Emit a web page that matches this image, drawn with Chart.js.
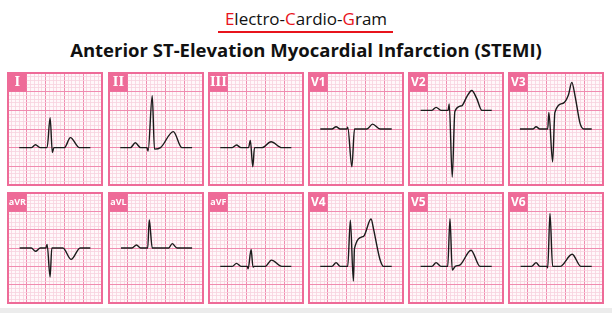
<!DOCTYPE html>
<html>
<head>
<meta charset="utf-8">
<script src="https://cdn.jsdelivr.net/npm/chart.js@4.4.1/dist/chart.umd.min.js"></script>
<style>
  body { margin: 0; width: 612px; height: 313px; background: #fff; position: relative; overflow: hidden; font-family: "Open Sans", "Noto Sans", sans-serif; }
  #title { position: absolute; top: 7px; left: 0; width: 612px; text-align: center; font-size: 17px; color: #111; }
  #title span { color: #e8141c; }
  #rule { position: absolute; top: 31px; left: 218px; width: 175px; height: 2px; background: #e8141c; }
  #subtitle { position: absolute; top: 37px; left: 0; width: 612px; text-align: center; font-size: 18.5px; font-weight: bold; color: #111; }
  .panel { position: absolute; }
  #foot { position: absolute; left: 0; top: 308px; width: 612px; height: 5px; background: #ececec; }
</style>
</head>
<body>
<div id="title"><span>E</span>lectro-<span>C</span>ardio-<span>G</span>ram</div>
<div id="rule"></div>
<div id="subtitle">Anterior ST-Elevation Myocardial Infarction (STEMI)</div>
<div id="foot"></div>
<script>
// traces: [x, y] in small squares (25 across, 30 up from the bottom)
const leadI   = [[3,10],[6.2,10],[7.3,10.8],[8.6,10],[10.4,10],[11.2,18],[11.8,8.7],[12.2,10],[15,10],[16.6,12.7],[19,10],[21.9,10]];
const leadII  = [[3,10],[5.7,10],[7,11.3],[8.4,10],[10.1,10],[10.4,9.1],[11.5,23.9],[12.1,9.6],[13.7,10],[17.1,14.3],[19.4,10],[22.1,10]];
const leadIII = [[3,10],[6.2,10],[7.3,10.7],[8.5,10],[10.5,10],[11,11.9],[11.65,4.9],[12.1,10],[14.1,10],[16.5,11.6],[19.4,10],[21.9,10]];
const leadV1  = [[3,15],[6.1,15],[7.2,15.6],[8.3,15],[10.1,15],[10.3,15.5],[11.4,4.9],[12.1,15],[15.4,15],[16.9,16.3],[18.9,15],[22,15]];
const leadV2  = [[3.1,20],[6.1,20],[7.2,20.8],[8.5,20],[10.4,20],[10.7,21.7],[11.5,2.1],[12.2,19.7],[14,21.2],[15.4,23.7],[16.7,25.3],[18,23.2],[19.4,20],[22,20]];
const leadV3  = [[2.9,15],[6.3,15],[7.2,15.6],[8.2,15],[10.3,15],[10.6,19.4],[11.6,6.2],[12.2,19.4],[14.4,21.9],[15.8,24.1],[16.7,27.5],[17.6,23.7],[18.9,16.5],[19.9,15],[22,15]];
const leadAVR = [[3.1,15],[6.2,15],[7.3,14.1],[8.6,15],[10.1,15],[10.4,16],[11.2,7.1],[11.65,15],[14.6,15],[16.8,11.9],[19.2,15],[21.9,15]];
const leadAVL = [[3.2,15],[6.1,15],[7.3,15.8],[8.4,15],[10.3,15],[10.7,22.7],[11.5,15],[15.9,15],[16.8,16.2],[18.1,15],[22.1,15]];
const leadAVF = [[3,10],[6.2,10],[7.3,10.8],[8.5,10],[10.2,10],[10.4,9.3],[11.2,14.6],[11.7,9.8],[12,10],[15,10],[16.6,11.7],[19.4,10],[21.9,10]];
const leadV4  = [[3,10],[6.1,10],[7.2,11],[8.3,10],[10.3,10],[11,22.6],[11.8,6],[12.1,14.9],[14.5,18.2],[16.5,22.9],[17.2,20],[18.1,15.4],[18.9,11.8],[19.8,10],[22,10]];
const leadV5  = [[3.1,10],[6.1,10],[7.2,11],[8.5,10],[10.3,10],[10.9,23],[11.5,9],[12.3,10],[13.6,10.4],[16.5,14.4],[18.9,10],[22,10]];
const leadV6  = [[3.1,10],[6,10],[7.2,11],[8.2,10],[10.1,10],[10.3,9.6],[10.9,24.4],[11.6,10],[13.6,10],[16.8,13.3],[19.1,10],[22,10]];

const leadNames = ['I', 'II', 'III', 'V1', 'V2', 'V3', 'aVR', 'aVL', 'aVF', 'V4', 'V5', 'V6'];
const leadData = [leadI, leadII, leadIII, leadV1, leadV2, leadV3, leadAVR, leadAVL, leadAVF, leadV4, leadV5, leadV6];

const colLeft = [8, 109, 209, 309, 409, 509];
const rowTop = [73, 193];
const rowHeight = [112, 110];
const panelWidth = 94;

const majorColor = '#f08cb0';
const minorColor = '#f8d2de';
const edgeColor = '#ee6b98';

const panelPlugin = {
  id: 'panel',
  beforeDraw(chart) {
    const a = chart.chartArea, ctx = chart.ctx;
    ctx.save();
    ctx.fillStyle = '#fff8fa';
    ctx.fillRect(a.left, a.top, a.right - a.left, a.bottom - a.top);
    ctx.restore();
  },
  afterDraw(chart, args, opts) {
    const a = chart.chartArea, ctx = chart.ctx;
    const cell = (a.right - a.left) / 5;
    ctx.save();
    ctx.strokeStyle = edgeColor;
    ctx.lineWidth = 2;
    ctx.strokeRect(a.left, a.top, a.right - a.left, a.bottom - a.top);
    ctx.fillStyle = edgeColor;
    ctx.fillRect(a.left, a.top, cell, cell);
    ctx.fillStyle = '#fff';
    const roman = /^I+$/.test(opts.label);
    ctx.font = roman ? 'bold 12px "DejaVu Serif"' : (opts.label.length > 2 ? 'bold 9px "Open Sans"' : 'bold 12px "Open Sans"');
    ctx.textAlign = 'center';
    ctx.textBaseline = 'middle';
    ctx.fillText(opts.label, a.left + cell / 2, a.top + cell / 2 + 0.5);
    ctx.restore();
  }
};

const gridOpts = {
  color: c => (c.tick.value % 5 === 0 ? majorColor : minorColor),
  lineWidth: c => (c.tick.value % 5 === 0 ? 1 : 0.8),
  drawTicks: false
};

leadData.forEach((pts, i) => {
  const row = Math.floor(i / 6), col = i % 6;
  const div = document.createElement('div');
  div.className = 'panel';
  div.style.left = (colLeft[col] - 1) + 'px';
  div.style.top = (rowTop[row] - 1) + 'px';
  const cv = document.createElement('canvas');
  cv.width = panelWidth + 2;
  cv.height = rowHeight[row] + 2;
  cv.style.width = cv.width + 'px';
  cv.style.height = cv.height + 'px';
  div.appendChild(cv);
  document.body.appendChild(div);

  new Chart(cv, {
    type: 'scatter',
    data: {
      datasets: [{
        data: pts.map(p => ({ x: p[0], y: p[1] })),
        showLine: true,
        borderColor: '#1b1b1b',
        borderWidth: 1.4,
        pointRadius: 0,
        cubicInterpolationMode: 'monotone'
      }]
    },
    options: {
      responsive: false,
      animation: false,
      events: [],
      layout: { padding: 1 },
      plugins: {
        legend: { display: false },
        tooltip: { enabled: false },
        panel: { label: leadNames[i] }
      },
      scales: {
        x: { type: 'linear', min: 0, max: 25, ticks: { display: false, stepSize: 1 }, grid: gridOpts, border: { display: false } },
        y: { type: 'linear', min: 0, max: 30, ticks: { display: false, stepSize: 1 }, grid: gridOpts, border: { display: false } }
      }
    },
    plugins: [panelPlugin]
  });
});
</script>
</body>
</html>
